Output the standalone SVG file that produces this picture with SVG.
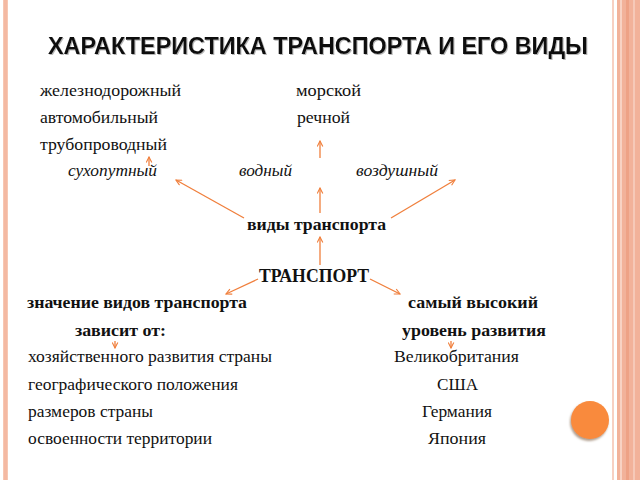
<svg xmlns="http://www.w3.org/2000/svg" width="640" height="480" viewBox="0 0 640 480">
<defs>
<style>
.t{font-family:"Liberation Serif","DejaVu Serif",serif;font-size:17px;fill:#111}
.b{font-weight:bold}
.i{font-style:italic}
.title{font-family:"Liberation Sans",Arial,sans-serif;font-size:24px;font-weight:bold;fill:#111}
.c{stroke:#f07f3c;stroke-width:1.3;fill:none;marker-end:url(#ah)}
</style>
<marker id="ah" viewBox="0 0 10 10" refX="9" refY="5" markerWidth="7" markerHeight="7" markerUnits="userSpaceOnUse" orient="auto">
<path d="M1,1 L9,5 L1,9" fill="none" stroke="#f07f3c" stroke-width="1.6"/>
</marker>
<filter id="sh" x="-10%" y="-10%" width="130%" height="130%">
<feDropShadow dx="1" dy="1" stdDeviation="0.6" flood-color="#888" flood-opacity="0.6"/>
</filter>
<filter id="csh" x="-30%" y="-30%" width="160%" height="160%">
<feDropShadow dx="-1" dy="2" stdDeviation="1" flood-color="#7a5a40" flood-opacity="0.6"/>
</filter>
</defs>
<rect width="640" height="480" fill="#fff"/>
<g id="frame">
<rect x="3" y="0" width="5" height="480" fill="#f7c7b3"/>
<rect x="4" y="0" width="3" height="480" fill="#f4b9a2"/>
<rect x="612" y="0" width="2" height="480" fill="#f7d0c2"/>
<rect x="617" y="0" width="23" height="480" fill="#f2b29a"/>
<rect x="620" y="0" width="2" height="480" fill="#f8d2c3"/>
<rect x="626" y="0" width="3" height="480" fill="#eea286"/>
<rect x="633" y="0" width="2" height="480" fill="#f6c9b8"/>
</g>
<g id="title">
<text class="title" x="48" y="54" textLength="540" lengthAdjust="spacingAndGlyphs" filter="url(#sh)">ХАРАКТЕРИСТИКА ТРАНСПОРТА И ЕГО ВИДЫ</text>
</g>
<g id="connectors">
<path class="c" d="M149,166 L149,157"/>
<path class="c" d="M320,158 L320,141"/>
<path class="c" d="M244,218 L176,180"/>
<path class="c" d="M320,213 L320,188"/>
<path class="c" d="M391,218 L455,180"/>
<path class="c" d="M320,265 L320,237"/>
<path class="c" d="M258,279 L226,294"/>
<path class="c" d="M370,279 L400,294"/>
<path class="c" d="M115,341 L115,348"/>
<path class="c" d="M451,341 L451,348"/>
</g>
<g id="n-rail"><text class="t" x="40" y="96" textLength="141" lengthAdjust="spacingAndGlyphs">железнодорожный</text></g>
<g id="n-sea"><text class="t" x="296" y="96" textLength="65" lengthAdjust="spacingAndGlyphs">морской</text></g>
<g id="n-auto"><text class="t" x="40" y="123" textLength="118" lengthAdjust="spacingAndGlyphs">автомобильный</text></g>
<g id="n-river"><text class="t" x="297" y="123" textLength="53" lengthAdjust="spacingAndGlyphs">речной</text></g>
<g id="n-pipe"><text class="t" x="40" y="150" textLength="127" lengthAdjust="spacingAndGlyphs">трубопроводный</text></g>
<g id="n-land"><text class="t i" x="68" y="176" textLength="89" lengthAdjust="spacingAndGlyphs">сухопутный</text></g>
<g id="n-water"><text class="t i" x="239" y="176" textLength="53" lengthAdjust="spacingAndGlyphs">водный</text></g>
<g id="n-air"><text class="t i" x="356" y="176" textLength="82" lengthAdjust="spacingAndGlyphs">воздушный</text></g>
<g id="n-types"><text class="t b" x="247" y="230" textLength="139" lengthAdjust="spacingAndGlyphs">виды транспорта</text></g>
<g id="n-transport"><text class="t b" x="259" y="282" style="font-size:18px" textLength="110" lengthAdjust="spacingAndGlyphs">ТРАНСПОРТ</text></g>
<g id="n-meaning">
<text class="t b" x="27" y="308" textLength="220" lengthAdjust="spacingAndGlyphs">значение видов транспорта</text>
<text class="t b" x="75" y="336" textLength="91" lengthAdjust="spacingAndGlyphs">зависит от:</text>
</g>
<g id="n-level">
<text class="t b" x="408" y="308" textLength="130" lengthAdjust="spacingAndGlyphs">самый высокий</text>
<text class="t b" x="402" y="336" textLength="144" lengthAdjust="spacingAndGlyphs">уровень развития</text>
</g>
<g id="n-factors">
<text class="t" x="28" y="362" textLength="244" lengthAdjust="spacingAndGlyphs">хозяйственного развития страны</text>
<text class="t" x="28" y="390" textLength="210" lengthAdjust="spacingAndGlyphs">географического положения</text>
<text class="t" x="28" y="417" textLength="125" lengthAdjust="spacingAndGlyphs">размеров страны</text>
<text class="t" x="28" y="444" textLength="184" lengthAdjust="spacingAndGlyphs">освоенности территории</text>
</g>
<g id="n-countries">
<text class="t" x="394" y="362" textLength="125" lengthAdjust="spacingAndGlyphs">Великобритания</text>
<text class="t" x="437" y="390" textLength="41" lengthAdjust="spacingAndGlyphs">США</text>
<text class="t" x="422" y="417" textLength="70" lengthAdjust="spacingAndGlyphs">Германия</text>
<text class="t" x="428" y="444" textLength="58" lengthAdjust="spacingAndGlyphs">Япония</text>
</g>
<g id="dot"><circle cx="590" cy="420" r="19" fill="#f98a3c" filter="url(#csh)"/></g>
</svg>
